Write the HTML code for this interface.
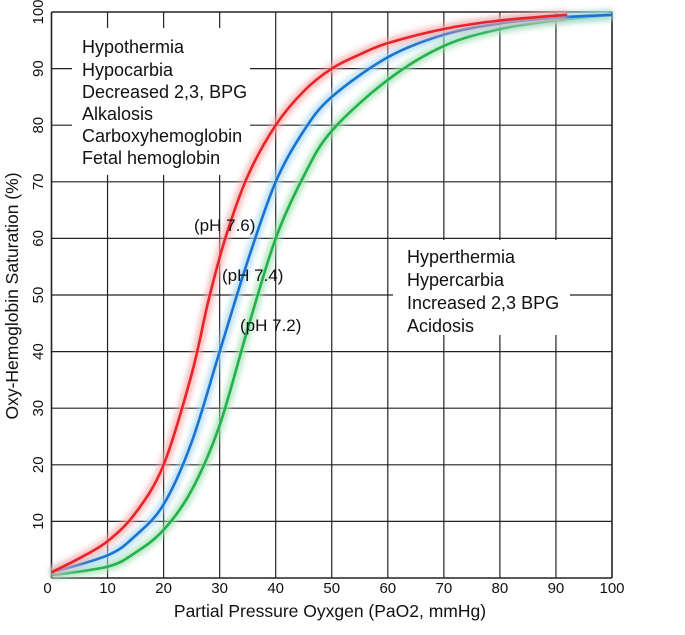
<!DOCTYPE html>
<html><head><meta charset="utf-8"><style>
html,body{margin:0;padding:0;background:#fff;}
svg{display:block;font-family:"Liberation Sans",Arial,sans-serif;}
</style></head><body>
<svg id="chart" width="685" height="635" viewBox="0 0 685 635" xmlns="http://www.w3.org/2000/svg">
<defs><filter id="glow" x="-20%" y="-20%" width="140%" height="140%"><feGaussianBlur stdDeviation="3"/></filter></defs>
<g id="grid"></g>
<g id="boxes">
<rect x="72" y="28" width="178" height="147" fill="#fff"/>
<rect x="393" y="240" width="177" height="95" fill="#fff"/>
</g>
<g id="series"></g>
<g font-size="18" fill="#111">
<text x="82" y="53">Hypothermia</text>
<text x="82" y="76">Hypocarbia</text>
<text x="82" y="98">Decreased 2,3, BPG</text>
<text x="82" y="120">Alkalosis</text>
<text x="82" y="142">Carboxyhemoglobin</text>
<text x="82" y="164">Fetal hemoglobin</text>
</g>
<g font-size="18" fill="#111">
<text x="407" y="263">Hyperthermia</text>
<text x="407" y="286">Hypercarbia</text>
<text x="407" y="309">Increased 2,3 BPG</text>
<text x="407" y="332">Acidosis</text>
</g>
<g font-size="17" fill="#111">
<text x="194" y="231">(pH 7.6)</text>
<text x="222" y="281">(pH 7.4)</text>
<text x="240" y="331">(pH 7.2)</text>
</g>
<g id="ticks" font-size="15" fill="#111"></g>
<text x="330" y="617" font-size="17.5" text-anchor="middle" fill="#111">Partial Pressure Oyxgen (PaO2, mmHg)</text>
<text transform="translate(18,296) rotate(-90)" font-size="17.5" text-anchor="middle" fill="#111">Oxy-Hemoglobin Saturation (%)</text>
</svg>
<script>
const xTicks=[0,10,20,30,40,50,60,70,80,90,100];
const yTicks=[0,10,20,30,40,50,60,70,80,90,100];
const redX=[0,5,10,15,20,25,28,31,35,40,45,50,55,60,70,80,92];
const redY=[1,3.5,6.5,11.5,20,36,49,60,71,80,86,90,92.5,94.5,97,98.5,99.5];
const blueX=[0,10,15,20,25,30,35,40,45,50,60,70,80,90,100];
const blueY=[1,4,7.5,13,24,40,56,70,79,85,92,96,98,99,99.5];
const greenX=[0,10,15,20,25,30,35,40,45,50,60,70,80,90,100];
const greenY=[0.5,2,4.5,8.5,15.5,27,44,60,71,79,88,94,97,98.5,99.5];

const X0=51.5,X1=612,Y0=578,Y1=12;
function sx(v){return X0+(X1-X0)*v/100;}
function sy(v){return Y0-(Y0-Y1)*v/100;}
const NS="http://www.w3.org/2000/svg";
function mk(tag,attrs,parent){const e=document.createElementNS(NS,tag);for(const k in attrs)e.setAttribute(k,attrs[k]);parent.appendChild(e);return e;}
const grid=document.getElementById('grid'),ticks=document.getElementById('ticks'),series=document.getElementById('series');
xTicks.forEach(t=>{
  const l=mk('line',{x1:sx(t),x2:sx(t),y1:sy(0),y2:sy(100),stroke:'#222','stroke-width':(t===0||t===100)?1.6:1.2},grid);
  
  
  const tx=mk('text',{x:sx(t)+(t===0?-4:0),y:593,'text-anchor':'middle'},ticks);
  tx.textContent=t;
  
  
});
yTicks.forEach(t=>{
  const l=mk('line',{x1:sx(0),x2:sx(100),y1:sy(t),y2:sy(t),stroke:'#222','stroke-width':(t===0||t===100)?1.6:1.2},grid);
  
  
  if(t>0){
    const tx=mk('text',{transform:'translate(43,'+sy(t)+') rotate(-90)','text-anchor':'middle'},ticks);
    tx.textContent=t;
    
    
  }
});
function pathD(xs,ys){
  const p=xs.map((x,i)=>[sx(x),sy(ys[i])]);
  let d='M'+p[0][0]+','+p[0][1];
  for(let i=0;i<p.length-1;i++){
    const p0=p[Math.max(0,i-1)],p1=p[i],p2=p[i+1],p3=p[Math.min(p.length-1,i+2)];
    const c1=[p1[0]+(p2[0]-p0[0])/6,p1[1]+(p2[1]-p0[1])/6];
    const c2=[p2[0]-(p3[0]-p1[0])/6,p2[1]-(p3[1]-p1[1])/6];
    d+=' C'+c1[0]+','+c1[1]+' '+c2[0]+','+c2[1]+' '+p2[0]+','+p2[1];
  }
  return d;
}
[[greenX,greenY,'#22b14c','#9fe0b0','ph-72-curve'],[blueX,blueY,'#1a73d0','#a8d8ee','ph-74-curve'],[redX,redY,'#e8232a','#f6a8a8','ph-76-curve']].forEach(s=>{
  const d=pathD(s[0],s[1]);
  mk('path',{d:d,fill:'none',stroke:s[3],'stroke-width':9,filter:'url(#glow)',opacity:0.8},series);
  const p=mk('path',{d:d,fill:'none',stroke:s[2],'stroke-width':2.6},series);
  
  
});
</script>
</body></html>
